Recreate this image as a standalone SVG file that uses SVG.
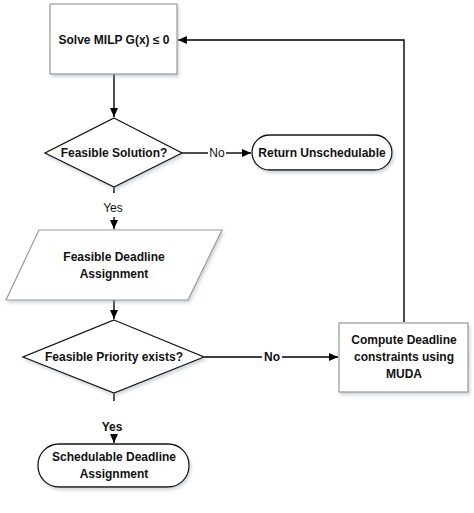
<svg xmlns="http://www.w3.org/2000/svg" width="474" height="513" viewBox="0 0 474 513">
<defs>
<marker id="ah" markerWidth="10" markerHeight="8" refX="9" refY="4" orient="auto" markerUnits="userSpaceOnUse">
<path d="M0,0 L9,4 L0,8 Z" fill="#000"/>
</marker>
<filter id="sh" x="-10%" y="-10%" width="130%" height="140%">
<feDropShadow dx="1.5" dy="2.5" stdDeviation="1.5" flood-color="#9aa6b8" flood-opacity="0.45"/>
</filter>
<style>
.box{fill:#fff;stroke:#9a9a9a;stroke-width:1.2;filter:url(#sh)}
.dec{fill:#fff;stroke:#111;stroke-width:1.3;filter:url(#sh)}
.term{fill:#fff;stroke:#111;stroke-width:1.3;filter:url(#sh)}
.t{font-family:"Liberation Sans",Arial,sans-serif;font-size:12px;font-weight:bold;fill:#111;text-anchor:middle;dominant-baseline:central}
.lbl{font-family:"Liberation Sans",Arial,sans-serif;font-size:12px;fill:#111;text-anchor:middle;dominant-baseline:central}
.c{fill:none;stroke:#000;stroke-width:1.4}
</style>
</defs>
<rect width="474" height="513" fill="#fff"/>
<g id="connectors">
<line class="c" x1="114" y1="74" x2="114" y2="117" marker-end="url(#ah)"/>
<line class="c" x1="182" y1="153" x2="208" y2="153"/>
<line class="c" x1="226" y1="153" x2="251" y2="153" marker-end="url(#ah)"/>
<line class="c" x1="114" y1="187" x2="114" y2="193"/>
<line class="c" x1="114" y1="217" x2="114" y2="229" marker-end="url(#ah)"/>
<line class="c" x1="114" y1="300" x2="114" y2="319" marker-end="url(#ah)"/>
<line class="c" x1="204" y1="357" x2="262" y2="357"/>
<line class="c" x1="282" y1="357" x2="338" y2="357" marker-end="url(#ah)"/>
<line class="c" x1="114" y1="393" x2="114" y2="401"/>
<line class="c" x1="114" y1="434" x2="114" y2="443" marker-end="url(#ah)"/>
<polyline class="c" points="404,322 404,40 178,40" marker-end="url(#ah)"/>
<text class="lbl" x="217" y="153">No</text>
<text class="lbl" x="113" y="208">Yes</text>
<text class="t" x="272" y="357">No</text>
<text class="t" x="112" y="427">Yes</text>
</g>
<g id="solve">
<rect class="box" x="50" y="4" width="127" height="70"/>
<text class="t" x="114" y="40">Solve MILP G(x) ≤ 0</text>
</g>
<g id="feasible-solution">
<polygon class="dec" points="114,118 182,153 114,187 45,153"/>
<text class="t" x="114" y="153">Feasible Solution?</text>
</g>
<g id="return-unschedulable">
<rect class="term" x="252" y="135" width="140" height="35" rx="17.5"/>
<text class="t" x="322" y="153">Return Unschedulable</text>
</g>
<g id="feasible-deadline">
<polygon class="box" points="39,230 222,230 188,300 6,300"/>
<text class="t" x="114" y="257">Feasible Deadline</text>
<text class="t" x="114" y="274">Assignment</text>
</g>
<g id="feasible-priority">
<polygon class="dec" points="114,320 204,357 114,393 23,357"/>
<text class="t" x="114" y="357">Feasible Priority exists?</text>
</g>
<g id="compute">
<rect class="box" x="339" y="323" width="129" height="69"/>
<text class="t" x="404" y="340">Compute Deadline</text>
<text class="t" x="404" y="357">constraints using</text>
<text class="t" x="404" y="374">MUDA</text>
</g>
<g id="schedulable">
<rect class="term" x="38" y="444" width="151" height="43" rx="21"/>
<text class="t" x="114" y="457">Schedulable Deadline</text>
<text class="t" x="114" y="474">Assignment</text>
</g>
</svg>
